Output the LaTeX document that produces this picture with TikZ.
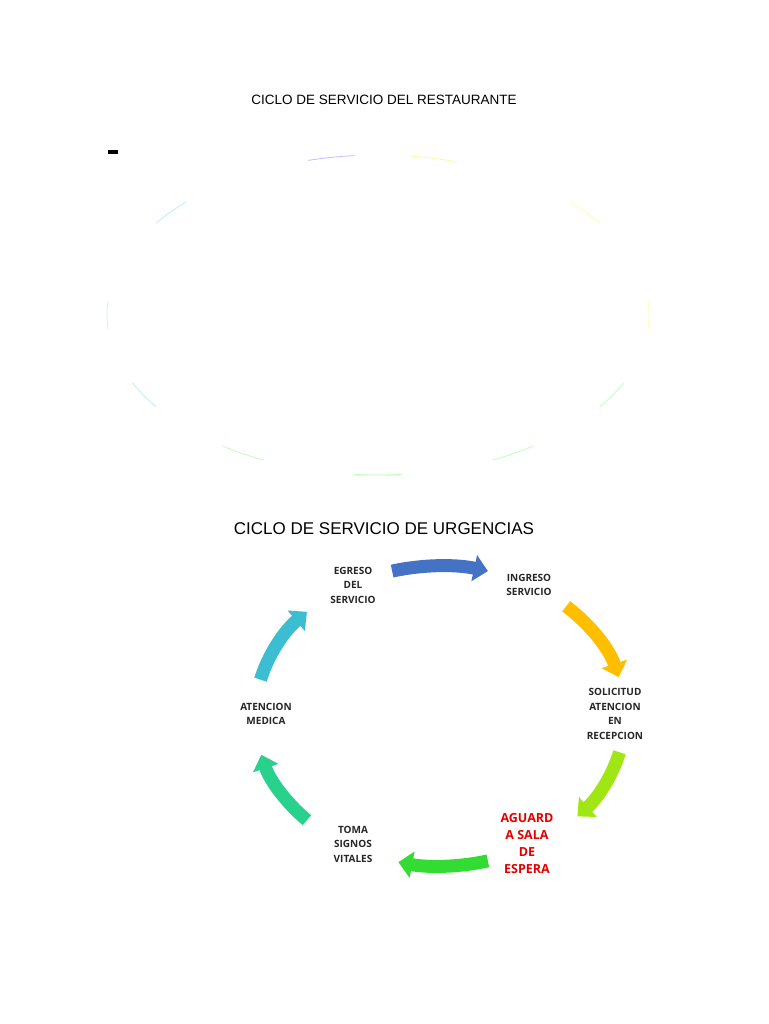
\documentclass[tikz,border=0pt]{standalone}
\usepackage{fontspec}
\setmainfont{Liberation Sans}
\newfontfamily\lab{Open Sans}
\usetikzlibrary{arrows.meta,calc}
\begin{document}
\begin{tikzpicture}[x=1pt,y=-1pt,
  lbl/.style={font=\lab\bfseries\fontsize{10}{14.5}\selectfont,align=center,text=black!85},
  cyc/.style={line width=13pt,-{Triangle[width=26pt,length=14pt]}},
  faint/.style={line width=0.8pt}]
\useasboundingbox (0,0) rectangle (768,1024);
\node (t1) at (384,100) {\fontsize{13.5}{16}\selectfont CICLO DE SERVICIO DEL RESTAURANTE};
\node[fill=black,minimum width=10pt,minimum height=4pt,inner sep=0pt] (mk) at (113,152) {};
% faint ellipse segments
\coordinate (ec) at (378,315);
\foreach \a/\c in {100/blue!25,78/yellow!40,140/cyan!25,40/yellow!30,180/cyan!20,0/yellow!30,210/cyan!25,-30/green!25,240/green!25,-60/green!25,270/green!30}{
  \draw[faint,\c] ($(ec)+({271*cos(\a-5)},{-160*sin(\a-5)})$) arc[start angle=-(\a-5),end angle=-(\a+5),x radius=271,y radius=160];
}
\node (t2) at (384,529) {\fontsize{17}{20}\selectfont CICLO DE SERVICIO DE URGENCIAS};
\node[lbl] (eg) at (353,585) {EGRESO\\DEL\\SERVICIO};
\node[lbl] (in) at (529,585) {INGRESO\\SERVICIO};
\node[lbl] (so) at (615,714) {SOLICITUD\\ATENCION\\EN\\RECEPCION};
\node[lbl,text=red!90!black,font=\lab\bfseries\fontsize{12.5}{17}\selectfont] (ag) at (527,844) {AGUARD\\A SALA\\DE\\ESPERA};
\node[lbl] (to) at (353,844) {TOMA\\SIGNOS\\VITALES};
\node[lbl] (at) at (266,714) {ATENCION\\MEDICA};
\coordinate (cc) at (440,716);
\foreach \s/\e/\c in {105/75/{rgb,255:red,68;green,114;blue,196},47/15/{rgb,255:red,255;green,190;blue,0},-14/-42/{rgb,255:red,160;green,230;blue,20},-75/-103/{rgb,255:red,50;green,220;blue,50},-136/-165/{rgb,255:red,40;green,210;blue,140},166/136/{rgb,255:red,60;green,190;blue,210}}{
  \draw[cyc,color=\c] ($(cc)+({185*cos(\s)},{-150*sin(\s)})$) arc[start angle=-\s,end angle=-\e,x radius=185,y radius=150];
}
\end{tikzpicture}
\end{document}
